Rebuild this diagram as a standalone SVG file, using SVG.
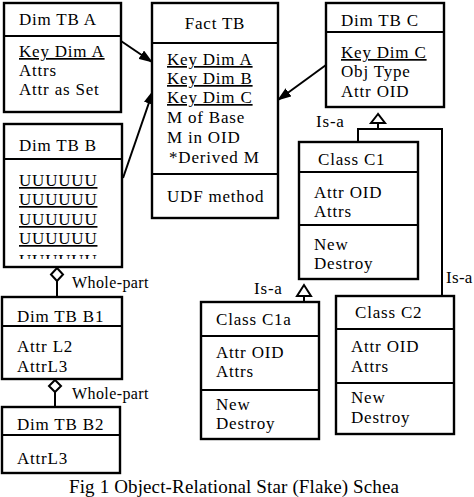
<svg xmlns="http://www.w3.org/2000/svg" width="474" height="497" viewBox="0 0 474 497">
<style>
.box{fill:#fff;stroke:#000;stroke-width:2.4}
.dv{stroke:#000;stroke-width:2}
.ln{stroke:#000;stroke-width:2;fill:none}
.hol{fill:#fff;stroke:#000;stroke-width:2}
text{font-family:"Liberation Serif","Times New Roman",serif;font-size:17px;letter-spacing:0.8px;fill:#000}
.u{text-decoration:underline}
.sm{font-size:16px;letter-spacing:0.4px}
.cap{font-size:19px;letter-spacing:0}
</style>
<defs>
<marker id="ah" viewBox="0 0 14 10" refX="13" refY="5" markerWidth="14" markerHeight="10" markerUnits="userSpaceOnUse" orient="auto">
<path d="M0,0 L14,5 L0,10 Z" fill="#000"/>
</marker>
<clipPath id="cb"><rect x="10" y="160" width="110" height="99"/></clipPath>
</defs>

<g id="connectors">
<line class="ln" x1="121" y1="41" x2="152" y2="62" marker-end="url(#ah)"/>
<line class="ln" x1="123" y1="178" x2="153" y2="91" marker-end="url(#ah)"/>
<line class="ln" x1="326" y1="65" x2="278" y2="100" marker-end="url(#ah)"/>
<polyline class="ln" points="358,142 358,129 442,129 442,296"/>
<line class="ln" x1="378" y1="123" x2="378" y2="129"/>
<polygon class="hol" points="378,114 371,123 385,123"/>
<text x="316" y="127">Is-a</text>
<text x="446" y="283" style="letter-spacing:0.3px">Is-a</text>
<line class="ln" x1="304" y1="296" x2="304" y2="302"/>
<polygon class="hol" points="304,285 297,296 311,296"/>
<text x="254" y="294">Is-a</text>
<line class="ln" x1="57" y1="281" x2="57" y2="297"/>
<polygon class="hol" points="57,268 63,274.5 57,281 51,274.5"/>
<text class="sm" x="72" y="288">Whole-part</text>
<line class="ln" x1="55" y1="392" x2="55" y2="407"/>
<polygon class="hol" points="55,380 61,386 55,392 49,386"/>
<text class="sm" x="72" y="399">Whole-part</text>
</g>

<g id="dimA">
<rect class="box" x="4" y="3" width="117" height="109"/>
<line class="dv" x1="4" y1="36" x2="121" y2="36"/>
<text x="19" y="25">Dim TB A</text>
<text class="u" x="19" y="57">Key Dim A</text>
<text x="19" y="76">Attrs</text>
<text x="19" y="95">Attr as Set</text>
</g>

<g id="fact">
<rect class="box" x="152" y="3" width="126" height="215"/>
<line class="dv" x1="152" y1="43" x2="278" y2="43"/>
<line class="dv" x1="152" y1="174" x2="278" y2="174"/>
<text x="215" y="29" text-anchor="middle">Fact TB</text>
<text class="u" x="167" y="65">Key Dim A</text>
<text class="u" x="167" y="84">Key Dim B</text>
<text class="u" x="167" y="103">Key Dim C</text>
<text x="167" y="123">M of Base</text>
<text x="167" y="143">M in OID</text>
<text x="169" y="163">*Derived M</text>
<text x="167" y="202">UDF method</text>
</g>

<g id="dimC">
<rect class="box" x="326" y="3" width="118" height="104"/>
<line class="dv" x1="326" y1="32" x2="444" y2="32"/>
<text x="341" y="26">Dim TB C</text>
<text class="u" x="341" y="58">Key Dim C</text>
<text x="341" y="77">Obj Type</text>
<text x="341" y="97">Attr OID</text>
</g>

<g id="dimB">
<rect class="box" x="4" y="124" width="118" height="143"/>
<line class="dv" x1="4" y1="159" x2="122" y2="159"/>
<text x="19" y="151">Dim TB B</text>
<g clip-path="url(#cb)">
<text class="u" x="19" y="186">UUUUUU</text>
<text class="u" x="19" y="205">UUUUUU</text>
<text class="u" x="19" y="225">UUUUUU</text>
<text class="u" x="19" y="244">UUUUUU</text>
<text x="19" y="266">UUUUUU</text>
</g>
</g>

<g id="dimB1">
<rect class="box" x="2" y="297" width="120" height="82"/>
<line class="dv" x1="2" y1="326" x2="122" y2="326"/>
<text x="17" y="322">Dim TB B1</text>
<text x="17" y="352">Attr L2</text>
<text x="17" y="372">AttrL3</text>
</g>

<g id="dimB2">
<rect class="box" x="2" y="407" width="118" height="66"/>
<line class="dv" x1="2" y1="435" x2="120" y2="435"/>
<text x="17" y="430">Dim TB B2</text>
<text x="17" y="464">AttrL3</text>
</g>

<g id="classC1">
<rect class="box" x="299" y="142" width="119" height="137"/>
<line class="dv" x1="299" y1="172" x2="418" y2="172"/>
<line class="dv" x1="299" y1="225" x2="418" y2="225"/>
<text x="318" y="165">Class C1</text>
<text x="314" y="198">Attr OID</text>
<text x="314" y="217">Attrs</text>
<text x="314" y="250">New</text>
<text x="314" y="269">Destroy</text>
</g>

<g id="classC1a">
<rect class="box" x="201" y="302" width="118" height="137"/>
<line class="dv" x1="201" y1="336" x2="319" y2="336"/>
<line class="dv" x1="201" y1="390" x2="319" y2="390"/>
<text x="216" y="325">Class C1a</text>
<text x="216" y="358">Attr OID</text>
<text x="216" y="377">Attrs</text>
<text x="216" y="410">New</text>
<text x="216" y="429">Destroy</text>
</g>

<g id="classC2">
<rect class="box" x="336" y="296" width="118" height="138"/>
<line class="dv" x1="336" y1="329" x2="454" y2="329"/>
<line class="dv" x1="336" y1="383" x2="454" y2="383"/>
<text x="355" y="318">Class C2</text>
<text x="351" y="352">Attr OID</text>
<text x="351" y="372">Attrs</text>
<text x="351" y="403">New</text>
<text x="351" y="423">Destroy</text>
</g>

<text class="cap" x="69" y="493" textLength="330">Fig 1 Object-Relational Star (Flake) Schea</text>
</svg>
